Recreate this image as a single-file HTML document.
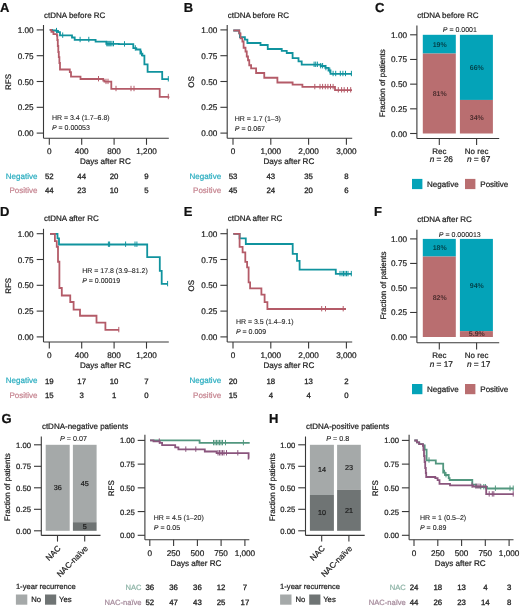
<!DOCTYPE html>
<html><head><meta charset="utf-8"><style>
html,body{margin:0;padding:0;background:#fff;}
svg{display:block;font-family:"Liberation Sans",sans-serif;text-rendering:geometricPrecision;filter:blur(0.3px);}
</style></head><body>
<svg width="520" height="608" viewBox="0 0 520 608">
<rect width="520" height="608" fill="#fff"/>
<text x="0.00" y="12.00" font-size="13" fill="#111" font-weight="bold" stroke="#111" stroke-width="0.22">A</text>
<text x="44.00" y="17.60" font-size="8" fill="#222" stroke="#222" stroke-width="0.22">ctDNA before RC</text>
<line x1="43.50" y1="25.00" x2="43.50" y2="138.20" stroke="#383838" stroke-width="1.1"/>
<line x1="36.70" y1="29.90" x2="43.50" y2="29.90" stroke="#383838" stroke-width="1.1"/>
<text x="33.60" y="32.90" font-size="8.2" fill="#222" text-anchor="end" stroke="#222" stroke-width="0.22">1.00</text>
<line x1="36.70" y1="55.70" x2="43.50" y2="55.70" stroke="#383838" stroke-width="1.1"/>
<text x="33.60" y="58.70" font-size="8.2" fill="#222" text-anchor="end" stroke="#222" stroke-width="0.22">0.75</text>
<line x1="36.70" y1="81.50" x2="43.50" y2="81.50" stroke="#383838" stroke-width="1.1"/>
<text x="33.60" y="84.50" font-size="8.2" fill="#222" text-anchor="end" stroke="#222" stroke-width="0.22">0.50</text>
<line x1="36.70" y1="107.30" x2="43.50" y2="107.30" stroke="#383838" stroke-width="1.1"/>
<text x="33.60" y="110.30" font-size="8.2" fill="#222" text-anchor="end" stroke="#222" stroke-width="0.22">0.25</text>
<line x1="36.70" y1="133.10" x2="43.50" y2="133.10" stroke="#383838" stroke-width="1.1"/>
<text x="33.60" y="136.10" font-size="8.2" fill="#222" text-anchor="end" stroke="#222" stroke-width="0.22">0.00</text>
<line x1="43.50" y1="138.20" x2="168.80" y2="138.20" stroke="#383838" stroke-width="1.1"/>
<line x1="49.30" y1="138.20" x2="49.30" y2="144.80" stroke="#383838" stroke-width="1.1"/>
<text x="49.30" y="153.80" font-size="8.2" fill="#222" text-anchor="middle" stroke="#222" stroke-width="0.22">0</text>
<line x1="81.70" y1="138.20" x2="81.70" y2="144.80" stroke="#383838" stroke-width="1.1"/>
<text x="81.70" y="153.80" font-size="8.2" fill="#222" text-anchor="middle" stroke="#222" stroke-width="0.22">400</text>
<line x1="114.10" y1="138.20" x2="114.10" y2="144.80" stroke="#383838" stroke-width="1.1"/>
<text x="114.10" y="153.80" font-size="8.2" fill="#222" text-anchor="middle" stroke="#222" stroke-width="0.22">800</text>
<line x1="146.50" y1="138.20" x2="146.50" y2="144.80" stroke="#383838" stroke-width="1.1"/>
<text x="146.50" y="153.80" font-size="8.2" fill="#222" text-anchor="middle" stroke="#222" stroke-width="0.22">1,200</text>
<text x="105.35" y="164.00" font-size="8.1" fill="#222" text-anchor="middle" stroke="#222" stroke-width="0.22">Days after RC</text>
<text transform="translate(10.60,82.00) rotate(-90)" font-size="8" fill="#222" text-anchor="middle" stroke="#222" stroke-width="0.22">RFS</text>
<text x="51.90" y="120.40" font-size="7" fill="#222" stroke="#222" stroke-width="0.1">HR = 3.4 (1.7–6.8)</text>
<text x="51.90" y="130.30" font-size="7" fill="#222" stroke="#222" stroke-width="0.1"><tspan font-style="italic">P</tspan> = 0.00053</text>
<text x="37.40" y="178.70" font-size="8" fill="#2caec0" text-anchor="end" stroke="#2caec0" stroke-width="0.22">Negative</text>
<text x="37.40" y="193.20" font-size="8" fill="#c68591" text-anchor="end" stroke="#c68591" stroke-width="0.22">Positive</text>
<text x="49.30" y="179.20" font-size="7.8" fill="#222" text-anchor="middle" stroke="#222" stroke-width="0.28">52</text>
<text x="49.30" y="193.40" font-size="7.8" fill="#222" text-anchor="middle" stroke="#222" stroke-width="0.28">44</text>
<text x="81.70" y="179.20" font-size="7.8" fill="#222" text-anchor="middle" stroke="#222" stroke-width="0.28">44</text>
<text x="81.70" y="193.40" font-size="7.8" fill="#222" text-anchor="middle" stroke="#222" stroke-width="0.28">23</text>
<text x="114.10" y="179.20" font-size="7.8" fill="#222" text-anchor="middle" stroke="#222" stroke-width="0.28">20</text>
<text x="114.10" y="193.40" font-size="7.8" fill="#222" text-anchor="middle" stroke="#222" stroke-width="0.28">10</text>
<text x="146.50" y="179.20" font-size="7.8" fill="#222" text-anchor="middle" stroke="#222" stroke-width="0.28">9</text>
<text x="146.50" y="193.40" font-size="7.8" fill="#222" text-anchor="middle" stroke="#222" stroke-width="0.28">5</text>
<path d="M49.70,29.90H52.20V30.50H56.30V30.90H58.00V32.20H60.00V35.45H72.00V37.50H74.70V39.80H95.60V41.70H106.30V43.90H118.80V44.20H133.30V48.20H136.30V49.50H140.40V53.60H142.40V55.60H144.40V64.30H147.60V71.80H162.20V79.10H168.60V79.10" fill="none" stroke="#10939e" stroke-width="1.8" stroke-linejoin="miter"/>
<line x1="56.50" y1="27.90" x2="56.50" y2="33.30" stroke="#10939e" stroke-width="1"/>
<line x1="62.70" y1="32.45" x2="62.70" y2="37.85" stroke="#10939e" stroke-width="1"/>
<line x1="80.10" y1="36.80" x2="80.10" y2="42.20" stroke="#10939e" stroke-width="1"/>
<line x1="88.80" y1="36.80" x2="88.80" y2="42.20" stroke="#10939e" stroke-width="1"/>
<line x1="106.80" y1="40.90" x2="106.80" y2="46.30" stroke="#10939e" stroke-width="1"/>
<line x1="107.80" y1="40.90" x2="107.80" y2="46.30" stroke="#10939e" stroke-width="1"/>
<line x1="108.80" y1="40.90" x2="108.80" y2="46.30" stroke="#10939e" stroke-width="1"/>
<line x1="109.80" y1="40.90" x2="109.80" y2="46.30" stroke="#10939e" stroke-width="1"/>
<line x1="110.80" y1="40.90" x2="110.80" y2="46.30" stroke="#10939e" stroke-width="1"/>
<line x1="112.00" y1="40.90" x2="112.00" y2="46.30" stroke="#10939e" stroke-width="1"/>
<line x1="113.50" y1="40.90" x2="113.50" y2="46.30" stroke="#10939e" stroke-width="1"/>
<line x1="124.50" y1="41.20" x2="124.50" y2="46.60" stroke="#10939e" stroke-width="1"/>
<line x1="135.30" y1="45.20" x2="135.30" y2="50.60" stroke="#10939e" stroke-width="1"/>
<line x1="141.50" y1="50.60" x2="141.50" y2="56.00" stroke="#10939e" stroke-width="1"/>
<line x1="168.30" y1="76.10" x2="168.30" y2="81.50" stroke="#10939e" stroke-width="1"/>
<path d="M49.70,29.90H51.40V31.75H53.45V34.20H56.90V35.50H57.30V40.00H57.80V46.00H58.30V52.00H58.80V57.20H59.40V63.00H60.00V69.50H68.10V69.50H69.80V72.10H71.00V76.70H80.50V79.00H103.30V80.50H104.40V81.70H111.30V88.80H159.70V96.80H168.60V96.60" fill="none" stroke="#b45b68" stroke-width="1.8" stroke-linejoin="miter"/>
<line x1="98.50" y1="76.00" x2="98.50" y2="81.40" stroke="#b45b68" stroke-width="1"/>
<line x1="106.00" y1="78.70" x2="106.00" y2="84.10" stroke="#b45b68" stroke-width="1"/>
<line x1="108.00" y1="78.70" x2="108.00" y2="84.10" stroke="#b45b68" stroke-width="1"/>
<line x1="116.00" y1="85.80" x2="116.00" y2="91.20" stroke="#b45b68" stroke-width="1"/>
<line x1="131.00" y1="85.80" x2="131.00" y2="91.20" stroke="#b45b68" stroke-width="1"/>
<line x1="134.00" y1="85.80" x2="134.00" y2="91.20" stroke="#b45b68" stroke-width="1"/>
<line x1="168.30" y1="93.80" x2="168.30" y2="99.20" stroke="#b45b68" stroke-width="1"/>
<text x="183.70" y="12.00" font-size="13" fill="#111" font-weight="bold" stroke="#111" stroke-width="0.22">B</text>
<text x="227.70" y="17.60" font-size="8" fill="#222" stroke="#222" stroke-width="0.22">ctDNA before RC</text>
<line x1="227.20" y1="25.00" x2="227.20" y2="138.20" stroke="#383838" stroke-width="1.1"/>
<line x1="220.40" y1="29.90" x2="227.20" y2="29.90" stroke="#383838" stroke-width="1.1"/>
<text x="217.30" y="32.90" font-size="8.2" fill="#222" text-anchor="end" stroke="#222" stroke-width="0.22">1.00</text>
<line x1="220.40" y1="55.70" x2="227.20" y2="55.70" stroke="#383838" stroke-width="1.1"/>
<text x="217.30" y="58.70" font-size="8.2" fill="#222" text-anchor="end" stroke="#222" stroke-width="0.22">0.75</text>
<line x1="220.40" y1="81.50" x2="227.20" y2="81.50" stroke="#383838" stroke-width="1.1"/>
<text x="217.30" y="84.50" font-size="8.2" fill="#222" text-anchor="end" stroke="#222" stroke-width="0.22">0.50</text>
<line x1="220.40" y1="107.30" x2="227.20" y2="107.30" stroke="#383838" stroke-width="1.1"/>
<text x="217.30" y="110.30" font-size="8.2" fill="#222" text-anchor="end" stroke="#222" stroke-width="0.22">0.25</text>
<line x1="220.40" y1="133.10" x2="227.20" y2="133.10" stroke="#383838" stroke-width="1.1"/>
<text x="217.30" y="136.10" font-size="8.2" fill="#222" text-anchor="end" stroke="#222" stroke-width="0.22">0.00</text>
<line x1="227.20" y1="138.20" x2="352.20" y2="138.20" stroke="#383838" stroke-width="1.1"/>
<line x1="233.00" y1="138.20" x2="233.00" y2="144.80" stroke="#383838" stroke-width="1.1"/>
<text x="233.00" y="153.80" font-size="8.2" fill="#222" text-anchor="middle" stroke="#222" stroke-width="0.22">0</text>
<line x1="270.80" y1="138.20" x2="270.80" y2="144.80" stroke="#383838" stroke-width="1.1"/>
<text x="270.80" y="153.80" font-size="8.2" fill="#222" text-anchor="middle" stroke="#222" stroke-width="0.22">1,000</text>
<line x1="308.60" y1="138.20" x2="308.60" y2="144.80" stroke="#383838" stroke-width="1.1"/>
<text x="308.60" y="153.80" font-size="8.2" fill="#222" text-anchor="middle" stroke="#222" stroke-width="0.22">2,000</text>
<line x1="346.40" y1="138.20" x2="346.40" y2="144.80" stroke="#383838" stroke-width="1.1"/>
<text x="346.40" y="153.80" font-size="8.2" fill="#222" text-anchor="middle" stroke="#222" stroke-width="0.22">3,000</text>
<text x="288.90" y="164.00" font-size="8.1" fill="#222" text-anchor="middle" stroke="#222" stroke-width="0.22">Days after RC</text>
<text transform="translate(194.30,82.00) rotate(-90)" font-size="8" fill="#222" text-anchor="middle" stroke="#222" stroke-width="0.22">OS</text>
<text x="234.80" y="120.80" font-size="7" fill="#222" stroke="#222" stroke-width="0.1">HR = 1.7 (1–3)</text>
<text x="234.80" y="130.70" font-size="7" fill="#222" stroke="#222" stroke-width="0.1"><tspan font-style="italic">P</tspan> = 0.067</text>
<text x="221.10" y="178.70" font-size="8" fill="#2caec0" text-anchor="end" stroke="#2caec0" stroke-width="0.22">Negative</text>
<text x="221.10" y="193.20" font-size="8" fill="#c68591" text-anchor="end" stroke="#c68591" stroke-width="0.22">Positive</text>
<text x="233.00" y="179.20" font-size="7.8" fill="#222" text-anchor="middle" stroke="#222" stroke-width="0.28">53</text>
<text x="233.00" y="193.40" font-size="7.8" fill="#222" text-anchor="middle" stroke="#222" stroke-width="0.28">45</text>
<text x="270.80" y="179.20" font-size="7.8" fill="#222" text-anchor="middle" stroke="#222" stroke-width="0.28">43</text>
<text x="270.80" y="193.40" font-size="7.8" fill="#222" text-anchor="middle" stroke="#222" stroke-width="0.28">24</text>
<text x="308.60" y="179.20" font-size="7.8" fill="#222" text-anchor="middle" stroke="#222" stroke-width="0.28">35</text>
<text x="308.60" y="193.40" font-size="7.8" fill="#222" text-anchor="middle" stroke="#222" stroke-width="0.28">20</text>
<text x="346.40" y="179.20" font-size="7.8" fill="#222" text-anchor="middle" stroke="#222" stroke-width="0.28">8</text>
<text x="346.40" y="193.40" font-size="7.8" fill="#222" text-anchor="middle" stroke="#222" stroke-width="0.28">6</text>
<path d="M233.30,30.50H239.25V33.40H239.90V37.10H244.90V39.60H247.40V43.00H260.50V45.00H267.75V49.00H281.75V50.90H286.75V53.00H292.60V58.10H298.50V61.40H301.70V64.60H320.70V66.00H325.30V67.90H328.50V70.50H330.50V73.80H352.00V73.80" fill="none" stroke="#10939e" stroke-width="1.8" stroke-linejoin="miter"/>
<line x1="314.10" y1="61.60" x2="314.10" y2="67.00" stroke="#10939e" stroke-width="1"/>
<line x1="315.70" y1="61.60" x2="315.70" y2="67.00" stroke="#10939e" stroke-width="1"/>
<line x1="317.40" y1="61.60" x2="317.40" y2="67.00" stroke="#10939e" stroke-width="1"/>
<line x1="320.70" y1="63.00" x2="320.70" y2="68.40" stroke="#10939e" stroke-width="1"/>
<line x1="322.60" y1="63.00" x2="322.60" y2="68.40" stroke="#10939e" stroke-width="1"/>
<line x1="325.90" y1="64.90" x2="325.90" y2="70.30" stroke="#10939e" stroke-width="1"/>
<line x1="329.80" y1="67.50" x2="329.80" y2="72.90" stroke="#10939e" stroke-width="1"/>
<line x1="333.10" y1="70.80" x2="333.10" y2="76.20" stroke="#10939e" stroke-width="1"/>
<line x1="335.70" y1="70.80" x2="335.70" y2="76.20" stroke="#10939e" stroke-width="1"/>
<line x1="340.30" y1="70.80" x2="340.30" y2="76.20" stroke="#10939e" stroke-width="1"/>
<line x1="342.90" y1="70.80" x2="342.90" y2="76.20" stroke="#10939e" stroke-width="1"/>
<line x1="345.50" y1="70.80" x2="345.50" y2="76.20" stroke="#10939e" stroke-width="1"/>
<line x1="351.40" y1="70.80" x2="351.40" y2="76.20" stroke="#10939e" stroke-width="1"/>
<path d="M233.30,30.50H239.25V33.40H240.50V38.40H242.40V41.50H243.60V47.75H245.50V51.50H246.75V56.50H248.00V60.25H249.25V65.25H251.10V68.40H256.10V73.00H264.25V77.75H277.40V82.50H292.60V84.60H302.40V86.90H335.00V90.10H352.00V90.10" fill="none" stroke="#b45b68" stroke-width="1.8" stroke-linejoin="miter"/>
<line x1="314.80" y1="83.90" x2="314.80" y2="89.30" stroke="#b45b68" stroke-width="1"/>
<line x1="320.00" y1="83.90" x2="320.00" y2="89.30" stroke="#b45b68" stroke-width="1"/>
<line x1="322.60" y1="83.90" x2="322.60" y2="89.30" stroke="#b45b68" stroke-width="1"/>
<line x1="325.30" y1="83.90" x2="325.30" y2="89.30" stroke="#b45b68" stroke-width="1"/>
<line x1="327.90" y1="83.90" x2="327.90" y2="89.30" stroke="#b45b68" stroke-width="1"/>
<line x1="330.50" y1="83.90" x2="330.50" y2="89.30" stroke="#b45b68" stroke-width="1"/>
<line x1="333.10" y1="83.90" x2="333.10" y2="89.30" stroke="#b45b68" stroke-width="1"/>
<line x1="338.30" y1="87.10" x2="338.30" y2="92.50" stroke="#b45b68" stroke-width="1"/>
<line x1="341.60" y1="87.10" x2="341.60" y2="92.50" stroke="#b45b68" stroke-width="1"/>
<line x1="344.20" y1="87.10" x2="344.20" y2="92.50" stroke="#b45b68" stroke-width="1"/>
<line x1="347.50" y1="87.10" x2="347.50" y2="92.50" stroke="#b45b68" stroke-width="1"/>
<line x1="350.70" y1="87.10" x2="350.70" y2="92.50" stroke="#b45b68" stroke-width="1"/>
<text x="375.00" y="12.00" font-size="13" fill="#111" font-weight="bold" stroke="#111" stroke-width="0.22">C</text>
<text x="417.20" y="17.60" font-size="8" fill="#222" stroke="#222" stroke-width="0.22">ctDNA before RC</text>
<line x1="416.90" y1="25.40" x2="416.90" y2="138.50" stroke="#383838" stroke-width="1.1"/>
<line x1="410.10" y1="34.80" x2="416.90" y2="34.80" stroke="#383838" stroke-width="1.1"/>
<text x="407.00" y="37.80" font-size="8.2" fill="#222" text-anchor="end" stroke="#222" stroke-width="0.22">1.00</text>
<line x1="410.10" y1="59.47" x2="416.90" y2="59.47" stroke="#383838" stroke-width="1.1"/>
<text x="407.00" y="62.47" font-size="8.2" fill="#222" text-anchor="end" stroke="#222" stroke-width="0.22">0.75</text>
<line x1="410.10" y1="84.15" x2="416.90" y2="84.15" stroke="#383838" stroke-width="1.1"/>
<text x="407.00" y="87.15" font-size="8.2" fill="#222" text-anchor="end" stroke="#222" stroke-width="0.22">0.50</text>
<line x1="410.10" y1="108.83" x2="416.90" y2="108.83" stroke="#383838" stroke-width="1.1"/>
<text x="407.00" y="111.83" font-size="8.2" fill="#222" text-anchor="end" stroke="#222" stroke-width="0.22">0.25</text>
<line x1="410.10" y1="133.50" x2="416.90" y2="133.50" stroke="#383838" stroke-width="1.1"/>
<text x="407.00" y="136.50" font-size="8.2" fill="#222" text-anchor="end" stroke="#222" stroke-width="0.22">0.00</text>
<line x1="416.90" y1="138.50" x2="499.20" y2="138.50" stroke="#383838" stroke-width="1.1"/>
<line x1="439.30" y1="138.50" x2="439.30" y2="145.10" stroke="#383838" stroke-width="1.1"/>
<line x1="476.60" y1="138.50" x2="476.60" y2="145.10" stroke="#383838" stroke-width="1.1"/>
<text x="459.80" y="32.40" font-size="7" fill="#222" text-anchor="middle" stroke="#222" stroke-width="0.1"><tspan font-style="italic">P</tspan> = 0.0001</text>
<text transform="translate(385.10,83.20) rotate(-90)" font-size="8" fill="#222" text-anchor="middle" stroke="#222" stroke-width="0.22">Fraction of patients</text>
<rect x="422.80" y="34.80" width="33.00" height="18.75" fill="#04a3b8"/>
<rect x="422.80" y="53.55" width="33.00" height="79.95" fill="#b96e70"/>
<text x="439.70" y="46.88" font-size="7" fill="#000" text-anchor="middle" font-weight="bold" fill-opacity="0.6" stroke-opacity="0" stroke="#000" stroke-width="0.1">19%</text>
<text x="439.70" y="96.43" font-size="7" fill="#000" text-anchor="middle" font-weight="bold" fill-opacity="0.6" stroke-opacity="0" stroke="#000" stroke-width="0.1">81%</text>
<rect x="459.90" y="34.80" width="33.00" height="65.14" fill="#04a3b8"/>
<rect x="459.90" y="99.94" width="33.00" height="33.56" fill="#b96e70"/>
<text x="476.80" y="70.07" font-size="7" fill="#000" text-anchor="middle" font-weight="bold" fill-opacity="0.6" stroke-opacity="0" stroke="#000" stroke-width="0.1">66%</text>
<text x="476.80" y="119.62" font-size="7" fill="#000" text-anchor="middle" font-weight="bold" fill-opacity="0.6" stroke-opacity="0" stroke="#000" stroke-width="0.1">34%</text>
<text x="439.30" y="153.90" font-size="8" fill="#222" text-anchor="middle" stroke="#222" stroke-width="0.22">Rec</text>
<text x="441.30" y="162.40" font-size="8.3" fill="#222" text-anchor="middle" stroke="#222" stroke-width="0.22"><tspan font-style="italic">n</tspan> = 26</text>
<text x="476.60" y="153.90" font-size="8" fill="#222" text-anchor="middle" stroke="#222" stroke-width="0.22">No rec</text>
<text x="478.60" y="162.40" font-size="8.3" fill="#222" text-anchor="middle" stroke="#222" stroke-width="0.22"><tspan font-style="italic">n</tspan> = 67</text>
<rect x="412.00" y="178.90" width="10.40" height="10.20" fill="#04a3b8"/>
<text x="427.00" y="186.90" font-size="8" fill="#222" stroke="#222" stroke-width="0.22">Negative</text>
<rect x="465.00" y="178.90" width="10.40" height="10.20" fill="#b96e70"/>
<text x="480.30" y="186.90" font-size="8" fill="#222" stroke="#222" stroke-width="0.22">Positive</text>
<text x="0.00" y="215.80" font-size="13" fill="#111" font-weight="bold" stroke="#111" stroke-width="0.22">D</text>
<text x="44.00" y="221.40" font-size="8" fill="#222" stroke="#222" stroke-width="0.22">ctDNA after RC</text>
<line x1="43.50" y1="228.80" x2="43.50" y2="342.00" stroke="#383838" stroke-width="1.1"/>
<line x1="36.70" y1="233.70" x2="43.50" y2="233.70" stroke="#383838" stroke-width="1.1"/>
<text x="33.60" y="236.70" font-size="8.2" fill="#222" text-anchor="end" stroke="#222" stroke-width="0.22">1.00</text>
<line x1="36.70" y1="259.50" x2="43.50" y2="259.50" stroke="#383838" stroke-width="1.1"/>
<text x="33.60" y="262.50" font-size="8.2" fill="#222" text-anchor="end" stroke="#222" stroke-width="0.22">0.75</text>
<line x1="36.70" y1="285.30" x2="43.50" y2="285.30" stroke="#383838" stroke-width="1.1"/>
<text x="33.60" y="288.30" font-size="8.2" fill="#222" text-anchor="end" stroke="#222" stroke-width="0.22">0.50</text>
<line x1="36.70" y1="311.10" x2="43.50" y2="311.10" stroke="#383838" stroke-width="1.1"/>
<text x="33.60" y="314.10" font-size="8.2" fill="#222" text-anchor="end" stroke="#222" stroke-width="0.22">0.25</text>
<line x1="36.70" y1="336.90" x2="43.50" y2="336.90" stroke="#383838" stroke-width="1.1"/>
<text x="33.60" y="339.90" font-size="8.2" fill="#222" text-anchor="end" stroke="#222" stroke-width="0.22">0.00</text>
<line x1="43.50" y1="342.00" x2="168.80" y2="342.00" stroke="#383838" stroke-width="1.1"/>
<line x1="49.30" y1="342.00" x2="49.30" y2="348.60" stroke="#383838" stroke-width="1.1"/>
<text x="49.30" y="357.60" font-size="8.2" fill="#222" text-anchor="middle" stroke="#222" stroke-width="0.22">0</text>
<line x1="81.70" y1="342.00" x2="81.70" y2="348.60" stroke="#383838" stroke-width="1.1"/>
<text x="81.70" y="357.60" font-size="8.2" fill="#222" text-anchor="middle" stroke="#222" stroke-width="0.22">400</text>
<line x1="114.10" y1="342.00" x2="114.10" y2="348.60" stroke="#383838" stroke-width="1.1"/>
<text x="114.10" y="357.60" font-size="8.2" fill="#222" text-anchor="middle" stroke="#222" stroke-width="0.22">800</text>
<line x1="146.50" y1="342.00" x2="146.50" y2="348.60" stroke="#383838" stroke-width="1.1"/>
<text x="146.50" y="357.60" font-size="8.2" fill="#222" text-anchor="middle" stroke="#222" stroke-width="0.22">1,200</text>
<text x="105.35" y="367.80" font-size="8.1" fill="#222" text-anchor="middle" stroke="#222" stroke-width="0.22">Days after RC</text>
<text transform="translate(10.60,285.80) rotate(-90)" font-size="8" fill="#222" text-anchor="middle" stroke="#222" stroke-width="0.22">RFS</text>
<text x="82.20" y="273.30" font-size="7" fill="#222" stroke="#222" stroke-width="0.1">HR = 17.8 (3.9–81.2)</text>
<text x="82.20" y="283.20" font-size="7" fill="#222" stroke="#222" stroke-width="0.1"><tspan font-style="italic">P</tspan> = 0.00019</text>
<text x="37.40" y="383.20" font-size="8" fill="#2caec0" text-anchor="end" stroke="#2caec0" stroke-width="0.22">Negative</text>
<text x="37.40" y="397.70" font-size="8" fill="#c68591" text-anchor="end" stroke="#c68591" stroke-width="0.22">Positive</text>
<text x="49.30" y="383.70" font-size="7.8" fill="#222" text-anchor="middle" stroke="#222" stroke-width="0.28">19</text>
<text x="49.30" y="397.90" font-size="7.8" fill="#222" text-anchor="middle" stroke="#222" stroke-width="0.28">15</text>
<text x="81.70" y="383.70" font-size="7.8" fill="#222" text-anchor="middle" stroke="#222" stroke-width="0.28">17</text>
<text x="81.70" y="397.90" font-size="7.8" fill="#222" text-anchor="middle" stroke="#222" stroke-width="0.28">3</text>
<text x="114.10" y="383.70" font-size="7.8" fill="#222" text-anchor="middle" stroke="#222" stroke-width="0.28">10</text>
<text x="114.10" y="397.90" font-size="7.8" fill="#222" text-anchor="middle" stroke="#222" stroke-width="0.28">1</text>
<text x="146.50" y="383.70" font-size="7.8" fill="#222" text-anchor="middle" stroke="#222" stroke-width="0.28">7</text>
<text x="146.50" y="397.90" font-size="7.8" fill="#222" text-anchor="middle" stroke="#222" stroke-width="0.28">0</text>
<path d="M50.00,233.80H57.50V238.30H59.00V244.50H147.20V257.10H159.80V270.80H161.70V283.90H167.90V283.90" fill="none" stroke="#10939e" stroke-width="1.8" stroke-linejoin="miter"/>
<line x1="108.40" y1="241.50" x2="108.40" y2="246.90" stroke="#10939e" stroke-width="1"/>
<line x1="109.60" y1="241.50" x2="109.60" y2="246.90" stroke="#10939e" stroke-width="1"/>
<line x1="125.60" y1="241.50" x2="125.60" y2="246.90" stroke="#10939e" stroke-width="1"/>
<line x1="135.00" y1="241.50" x2="135.00" y2="246.90" stroke="#10939e" stroke-width="1"/>
<line x1="136.90" y1="241.50" x2="136.90" y2="246.90" stroke="#10939e" stroke-width="1"/>
<line x1="167.60" y1="280.90" x2="167.60" y2="286.30" stroke="#10939e" stroke-width="1"/>
<path d="M50.00,233.80H54.90V241.10H56.75V246.75H58.00V261.75H59.40V288.00H61.80V295.50H70.25V302.00H73.60V309.60H80.00V315.75H96.50V322.70H105.40V329.90H119.10V329.90" fill="none" stroke="#b45b68" stroke-width="1.8" stroke-linejoin="miter"/>
<line x1="118.80" y1="326.90" x2="118.80" y2="332.30" stroke="#b45b68" stroke-width="1"/>
<text x="183.70" y="215.80" font-size="13" fill="#111" font-weight="bold" stroke="#111" stroke-width="0.22">E</text>
<text x="227.70" y="221.40" font-size="8" fill="#222" stroke="#222" stroke-width="0.22">ctDNA after RC</text>
<line x1="227.20" y1="228.80" x2="227.20" y2="342.00" stroke="#383838" stroke-width="1.1"/>
<line x1="220.40" y1="233.70" x2="227.20" y2="233.70" stroke="#383838" stroke-width="1.1"/>
<text x="217.30" y="236.70" font-size="8.2" fill="#222" text-anchor="end" stroke="#222" stroke-width="0.22">1.00</text>
<line x1="220.40" y1="259.50" x2="227.20" y2="259.50" stroke="#383838" stroke-width="1.1"/>
<text x="217.30" y="262.50" font-size="8.2" fill="#222" text-anchor="end" stroke="#222" stroke-width="0.22">0.75</text>
<line x1="220.40" y1="285.30" x2="227.20" y2="285.30" stroke="#383838" stroke-width="1.1"/>
<text x="217.30" y="288.30" font-size="8.2" fill="#222" text-anchor="end" stroke="#222" stroke-width="0.22">0.50</text>
<line x1="220.40" y1="311.10" x2="227.20" y2="311.10" stroke="#383838" stroke-width="1.1"/>
<text x="217.30" y="314.10" font-size="8.2" fill="#222" text-anchor="end" stroke="#222" stroke-width="0.22">0.25</text>
<line x1="220.40" y1="336.90" x2="227.20" y2="336.90" stroke="#383838" stroke-width="1.1"/>
<text x="217.30" y="339.90" font-size="8.2" fill="#222" text-anchor="end" stroke="#222" stroke-width="0.22">0.00</text>
<line x1="227.20" y1="342.00" x2="352.20" y2="342.00" stroke="#383838" stroke-width="1.1"/>
<line x1="233.00" y1="342.00" x2="233.00" y2="348.60" stroke="#383838" stroke-width="1.1"/>
<text x="233.00" y="357.60" font-size="8.2" fill="#222" text-anchor="middle" stroke="#222" stroke-width="0.22">0</text>
<line x1="270.80" y1="342.00" x2="270.80" y2="348.60" stroke="#383838" stroke-width="1.1"/>
<text x="270.80" y="357.60" font-size="8.2" fill="#222" text-anchor="middle" stroke="#222" stroke-width="0.22">1,000</text>
<line x1="308.60" y1="342.00" x2="308.60" y2="348.60" stroke="#383838" stroke-width="1.1"/>
<text x="308.60" y="357.60" font-size="8.2" fill="#222" text-anchor="middle" stroke="#222" stroke-width="0.22">2,000</text>
<line x1="346.40" y1="342.00" x2="346.40" y2="348.60" stroke="#383838" stroke-width="1.1"/>
<text x="346.40" y="357.60" font-size="8.2" fill="#222" text-anchor="middle" stroke="#222" stroke-width="0.22">3,000</text>
<text x="288.90" y="367.80" font-size="8.1" fill="#222" text-anchor="middle" stroke="#222" stroke-width="0.22">Days after RC</text>
<text transform="translate(194.30,285.80) rotate(-90)" font-size="8" fill="#222" text-anchor="middle" stroke="#222" stroke-width="0.22">OS</text>
<text x="235.90" y="324.30" font-size="7" fill="#222" stroke="#222" stroke-width="0.1">HR = 3.5 (1.4–9.1)</text>
<text x="235.90" y="334.20" font-size="7" fill="#222" stroke="#222" stroke-width="0.1"><tspan font-style="italic">P</tspan> = 0.009</text>
<text x="221.10" y="383.20" font-size="8" fill="#2caec0" text-anchor="end" stroke="#2caec0" stroke-width="0.22">Negative</text>
<text x="221.10" y="397.70" font-size="8" fill="#c68591" text-anchor="end" stroke="#c68591" stroke-width="0.22">Positive</text>
<text x="233.00" y="383.70" font-size="7.8" fill="#222" text-anchor="middle" stroke="#222" stroke-width="0.28">20</text>
<text x="233.00" y="397.90" font-size="7.8" fill="#222" text-anchor="middle" stroke="#222" stroke-width="0.28">15</text>
<text x="270.80" y="383.70" font-size="7.8" fill="#222" text-anchor="middle" stroke="#222" stroke-width="0.28">18</text>
<text x="270.80" y="397.90" font-size="7.8" fill="#222" text-anchor="middle" stroke="#222" stroke-width="0.28">4</text>
<text x="308.60" y="383.70" font-size="7.8" fill="#222" text-anchor="middle" stroke="#222" stroke-width="0.28">13</text>
<text x="308.60" y="397.90" font-size="7.8" fill="#222" text-anchor="middle" stroke="#222" stroke-width="0.28">4</text>
<text x="346.40" y="383.70" font-size="7.8" fill="#222" text-anchor="middle" stroke="#222" stroke-width="0.28">2</text>
<text x="346.40" y="397.90" font-size="7.8" fill="#222" text-anchor="middle" stroke="#222" stroke-width="0.28">0</text>
<path d="M233.30,233.80H239.60V238.30H245.80V244.00H292.70V244.00H292.70V253.80H297.00V260.80H299.60V269.60H335.80V273.90H351.70V273.90" fill="none" stroke="#10939e" stroke-width="1.8" stroke-linejoin="miter"/>
<line x1="340.00" y1="270.90" x2="340.00" y2="276.30" stroke="#10939e" stroke-width="1"/>
<line x1="342.00" y1="270.90" x2="342.00" y2="276.30" stroke="#10939e" stroke-width="1"/>
<line x1="343.50" y1="270.90" x2="343.50" y2="276.30" stroke="#10939e" stroke-width="1"/>
<line x1="345.00" y1="270.90" x2="345.00" y2="276.30" stroke="#10939e" stroke-width="1"/>
<line x1="346.50" y1="270.90" x2="346.50" y2="276.30" stroke="#10939e" stroke-width="1"/>
<line x1="348.00" y1="270.90" x2="348.00" y2="276.30" stroke="#10939e" stroke-width="1"/>
<line x1="351.30" y1="270.90" x2="351.30" y2="276.30" stroke="#10939e" stroke-width="1"/>
<path d="M233.30,233.80H239.60V246.80H242.60V252.40H245.30V261.80H247.10V267.40H248.60V282.40H250.10V288.40H261.40V294.60H264.60V302.10H267.40V309.00H346.00V309.00" fill="none" stroke="#b45b68" stroke-width="1.8" stroke-linejoin="miter"/>
<line x1="321.70" y1="306.00" x2="321.70" y2="311.40" stroke="#b45b68" stroke-width="1"/>
<line x1="325.50" y1="306.00" x2="325.50" y2="311.40" stroke="#b45b68" stroke-width="1"/>
<line x1="343.20" y1="306.00" x2="343.20" y2="311.40" stroke="#b45b68" stroke-width="1"/>
<text x="374.00" y="216.30" font-size="13" fill="#111" font-weight="bold" stroke="#111" stroke-width="0.22">F</text>
<text x="417.20" y="221.90" font-size="8" fill="#222" stroke="#222" stroke-width="0.22">ctDNA after RC</text>
<line x1="416.90" y1="229.70" x2="416.90" y2="342.80" stroke="#383838" stroke-width="1.1"/>
<line x1="410.10" y1="238.90" x2="416.90" y2="238.90" stroke="#383838" stroke-width="1.1"/>
<text x="407.00" y="241.90" font-size="8.2" fill="#222" text-anchor="end" stroke="#222" stroke-width="0.22">1.00</text>
<line x1="410.10" y1="263.43" x2="416.90" y2="263.43" stroke="#383838" stroke-width="1.1"/>
<text x="407.00" y="266.43" font-size="8.2" fill="#222" text-anchor="end" stroke="#222" stroke-width="0.22">0.75</text>
<line x1="410.10" y1="287.95" x2="416.90" y2="287.95" stroke="#383838" stroke-width="1.1"/>
<text x="407.00" y="290.95" font-size="8.2" fill="#222" text-anchor="end" stroke="#222" stroke-width="0.22">0.50</text>
<line x1="410.10" y1="312.48" x2="416.90" y2="312.48" stroke="#383838" stroke-width="1.1"/>
<text x="407.00" y="315.48" font-size="8.2" fill="#222" text-anchor="end" stroke="#222" stroke-width="0.22">0.25</text>
<line x1="410.10" y1="337.00" x2="416.90" y2="337.00" stroke="#383838" stroke-width="1.1"/>
<text x="407.00" y="340.00" font-size="8.2" fill="#222" text-anchor="end" stroke="#222" stroke-width="0.22">0.00</text>
<line x1="416.90" y1="342.80" x2="499.20" y2="342.80" stroke="#383838" stroke-width="1.1"/>
<line x1="439.30" y1="342.80" x2="439.30" y2="349.40" stroke="#383838" stroke-width="1.1"/>
<line x1="476.60" y1="342.80" x2="476.60" y2="349.40" stroke="#383838" stroke-width="1.1"/>
<text x="459.80" y="236.70" font-size="7" fill="#222" text-anchor="middle" stroke="#222" stroke-width="0.1"><tspan font-style="italic">P</tspan> = 0.000013</text>
<text transform="translate(386.00,285.60) rotate(-90)" font-size="8" fill="#222" text-anchor="middle" stroke="#222" stroke-width="0.22">Fraction of patients</text>
<rect x="422.80" y="238.90" width="33.00" height="17.66" fill="#04a3b8"/>
<rect x="422.80" y="256.56" width="33.00" height="80.44" fill="#b96e70"/>
<text x="439.70" y="250.43" font-size="7" fill="#000" text-anchor="middle" font-weight="bold" fill-opacity="0.6" stroke-opacity="0" stroke="#000" stroke-width="0.1">18%</text>
<text x="439.70" y="299.68" font-size="7" fill="#000" text-anchor="middle" font-weight="bold" fill-opacity="0.6" stroke-opacity="0" stroke="#000" stroke-width="0.1">82%</text>
<rect x="459.90" y="238.90" width="33.00" height="92.21" fill="#04a3b8"/>
<rect x="459.90" y="331.11" width="33.00" height="5.89" fill="#b96e70"/>
<text x="476.80" y="287.71" font-size="7" fill="#000" text-anchor="middle" font-weight="bold" fill-opacity="0.6" stroke-opacity="0" stroke="#000" stroke-width="0.1">94%</text>
<text x="476.80" y="336.40" font-size="7" fill="#000" text-anchor="middle" font-weight="bold" fill-opacity="0.6" stroke-opacity="0" stroke="#000" stroke-width="0.1">5.9%</text>
<text x="439.30" y="358.20" font-size="8" fill="#222" text-anchor="middle" stroke="#222" stroke-width="0.22">Rec</text>
<text x="441.30" y="366.70" font-size="8.3" fill="#222" text-anchor="middle" stroke="#222" stroke-width="0.22"><tspan font-style="italic">n</tspan> = 17</text>
<text x="476.60" y="358.20" font-size="8" fill="#222" text-anchor="middle" stroke="#222" stroke-width="0.22">No rec</text>
<text x="478.60" y="366.70" font-size="8.3" fill="#222" text-anchor="middle" stroke="#222" stroke-width="0.22"><tspan font-style="italic">n</tspan> = 17</text>
<rect x="412.00" y="384.00" width="10.40" height="10.20" fill="#04a3b8"/>
<text x="427.00" y="392.00" font-size="8" fill="#222" stroke="#222" stroke-width="0.22">Negative</text>
<rect x="465.00" y="384.00" width="10.40" height="10.20" fill="#b96e70"/>
<text x="480.30" y="392.00" font-size="8" fill="#222" stroke="#222" stroke-width="0.22">Positive</text>
<text x="1.50" y="423.10" font-size="13" fill="#111" font-weight="bold" stroke="#111" stroke-width="0.22">G</text>
<text x="41.90" y="428.80" font-size="8" fill="#222" stroke="#222" stroke-width="0.22">ctDNA-negative patients</text>
<line x1="41.30" y1="436.50" x2="41.30" y2="535.40" stroke="#383838" stroke-width="1.1"/>
<line x1="34.00" y1="444.80" x2="41.30" y2="444.80" stroke="#383838" stroke-width="1.1"/>
<text x="31.00" y="447.80" font-size="7.7" fill="#222" text-anchor="end" stroke="#222" stroke-width="0.22">1.00</text>
<line x1="34.00" y1="466.30" x2="41.30" y2="466.30" stroke="#383838" stroke-width="1.1"/>
<text x="31.00" y="469.30" font-size="7.7" fill="#222" text-anchor="end" stroke="#222" stroke-width="0.22">0.75</text>
<line x1="34.00" y1="487.80" x2="41.30" y2="487.80" stroke="#383838" stroke-width="1.1"/>
<text x="31.00" y="490.80" font-size="7.7" fill="#222" text-anchor="end" stroke="#222" stroke-width="0.22">0.50</text>
<line x1="34.00" y1="509.30" x2="41.30" y2="509.30" stroke="#383838" stroke-width="1.1"/>
<text x="31.00" y="512.30" font-size="7.7" fill="#222" text-anchor="end" stroke="#222" stroke-width="0.22">0.25</text>
<line x1="34.00" y1="530.80" x2="41.30" y2="530.80" stroke="#383838" stroke-width="1.1"/>
<text x="31.00" y="533.80" font-size="7.7" fill="#222" text-anchor="end" stroke="#222" stroke-width="0.22">0.00</text>
<line x1="41.30" y1="535.40" x2="100.50" y2="535.40" stroke="#383838" stroke-width="1.1"/>
<line x1="57.50" y1="535.40" x2="57.50" y2="541.60" stroke="#383838" stroke-width="1.1"/>
<line x1="84.70" y1="535.40" x2="84.70" y2="541.60" stroke="#383838" stroke-width="1.1"/>
<text x="73.50" y="441.30" font-size="7.2" fill="#222" text-anchor="middle" stroke="#222" stroke-width="0.1"><tspan font-style="italic">P</tspan> = 0.07</text>
<text transform="translate(10.30,487.30) rotate(-90)" font-size="8" fill="#222" text-anchor="middle" stroke="#222" stroke-width="0.22">Fraction of patients</text>
<rect x="45.70" y="444.80" width="24.00" height="86.00" fill="#a5a9a9"/>
<rect x="45.70" y="530.80" width="24.00" height="0.00" fill="#6f7474"/>
<text x="57.70" y="490.40" font-size="7.2" fill="#1c1c1c" text-anchor="middle" stroke="#1c1c1c" stroke-width="0.2">36</text>
<rect x="72.90" y="444.80" width="23.70" height="77.40" fill="#a5a9a9"/>
<rect x="72.90" y="522.20" width="23.70" height="8.60" fill="#6f7474"/>
<text x="84.75" y="486.10" font-size="7.2" fill="#1c1c1c" text-anchor="middle" stroke="#1c1c1c" stroke-width="0.2">45</text>
<text x="84.75" y="529.10" font-size="7.2" fill="#1c1c1c" text-anchor="middle" stroke="#1c1c1c" stroke-width="0.2">5</text>
<text transform="translate(61.30,548.90) rotate(-45)" font-size="8.2" fill="#222" text-anchor="end" stroke="#222" stroke-width="0.22">NAC</text>
<text transform="translate(88.50,549.10) rotate(-45)" font-size="8.2" fill="#222" text-anchor="end" stroke="#222" stroke-width="0.22">NAC-naïve</text>
<text x="15.90" y="588.90" font-size="7.6" fill="#222" stroke="#222" stroke-width="0.22">1-year recurrence</text>
<rect x="15.90" y="594.50" width="11.40" height="10.20" fill="#a5a9a9"/>
<text x="31.30" y="602.40" font-size="7.7" fill="#222" stroke="#222" stroke-width="0.22">No</text>
<rect x="45.00" y="594.50" width="11.20" height="10.20" fill="#6f7474"/>
<text x="59.00" y="602.40" font-size="7.7" fill="#222" stroke="#222" stroke-width="0.22">Yes</text>
<line x1="144.90" y1="434.80" x2="144.90" y2="539.70" stroke="#383838" stroke-width="1.1"/>
<line x1="137.70" y1="440.40" x2="144.90" y2="440.40" stroke="#383838" stroke-width="1.1"/>
<text x="134.90" y="443.40" font-size="7.7" fill="#222" text-anchor="end" stroke="#222" stroke-width="0.22">1.00</text>
<line x1="137.70" y1="464.12" x2="144.90" y2="464.12" stroke="#383838" stroke-width="1.1"/>
<text x="134.90" y="467.12" font-size="7.7" fill="#222" text-anchor="end" stroke="#222" stroke-width="0.22">0.75</text>
<line x1="137.70" y1="487.85" x2="144.90" y2="487.85" stroke="#383838" stroke-width="1.1"/>
<text x="134.90" y="490.85" font-size="7.7" fill="#222" text-anchor="end" stroke="#222" stroke-width="0.22">0.50</text>
<line x1="137.70" y1="511.57" x2="144.90" y2="511.57" stroke="#383838" stroke-width="1.1"/>
<text x="134.90" y="514.57" font-size="7.7" fill="#222" text-anchor="end" stroke="#222" stroke-width="0.22">0.25</text>
<line x1="137.70" y1="535.30" x2="144.90" y2="535.30" stroke="#383838" stroke-width="1.1"/>
<text x="134.90" y="538.30" font-size="7.7" fill="#222" text-anchor="end" stroke="#222" stroke-width="0.22">0.00</text>
<line x1="144.90" y1="539.70" x2="249.30" y2="539.70" stroke="#383838" stroke-width="1.1"/>
<line x1="149.80" y1="539.70" x2="149.80" y2="546.00" stroke="#383838" stroke-width="1.1"/>
<text x="149.80" y="555.80" font-size="8.2" fill="#222" text-anchor="middle" stroke="#222" stroke-width="0.22">0</text>
<line x1="173.60" y1="539.70" x2="173.60" y2="546.00" stroke="#383838" stroke-width="1.1"/>
<text x="173.60" y="555.80" font-size="8.2" fill="#222" text-anchor="middle" stroke="#222" stroke-width="0.22">250</text>
<line x1="197.40" y1="539.70" x2="197.40" y2="546.00" stroke="#383838" stroke-width="1.1"/>
<text x="197.40" y="555.80" font-size="8.2" fill="#222" text-anchor="middle" stroke="#222" stroke-width="0.22">500</text>
<line x1="221.10" y1="539.70" x2="221.10" y2="546.00" stroke="#383838" stroke-width="1.1"/>
<text x="221.10" y="555.80" font-size="8.2" fill="#222" text-anchor="middle" stroke="#222" stroke-width="0.22">750</text>
<line x1="244.90" y1="539.70" x2="244.90" y2="546.00" stroke="#383838" stroke-width="1.1"/>
<text x="244.90" y="555.80" font-size="8.2" fill="#222" text-anchor="middle" stroke="#222" stroke-width="0.22">1,000</text>
<text x="196.00" y="566.30" font-size="8.1" fill="#222" text-anchor="middle" stroke="#222" stroke-width="0.22">Days after RC</text>
<text transform="translate(114.10,488.20) rotate(-90)" font-size="8" fill="#222" text-anchor="middle" stroke="#222" stroke-width="0.22">RFS</text>
<text x="153.80" y="520.00" font-size="7" fill="#222" stroke="#222" stroke-width="0.1">HR = 4.5 (1–20)</text>
<text x="153.80" y="529.60" font-size="7" fill="#222" stroke="#222" stroke-width="0.1"><tspan font-style="italic">P</tspan> = 0.05</text>
<text x="141.60" y="589.90" font-size="7.6" fill="#8db3a6" text-anchor="end" stroke="#8db3a6" stroke-width="0.22">NAC</text>
<text x="141.60" y="604.60" font-size="7.6" fill="#a58a9b" text-anchor="end" stroke="#a58a9b" stroke-width="0.22">NAC-naïve</text>
<text x="149.80" y="590.00" font-size="7.8" fill="#222" text-anchor="middle" stroke="#222" stroke-width="0.3">36</text>
<text x="149.80" y="604.60" font-size="7.8" fill="#222" text-anchor="middle" stroke="#222" stroke-width="0.3">52</text>
<text x="173.60" y="590.00" font-size="7.8" fill="#222" text-anchor="middle" stroke="#222" stroke-width="0.3">36</text>
<text x="173.60" y="604.60" font-size="7.8" fill="#222" text-anchor="middle" stroke="#222" stroke-width="0.3">47</text>
<text x="197.40" y="590.00" font-size="7.8" fill="#222" text-anchor="middle" stroke="#222" stroke-width="0.3">36</text>
<text x="197.40" y="604.60" font-size="7.8" fill="#222" text-anchor="middle" stroke="#222" stroke-width="0.3">43</text>
<text x="221.10" y="590.00" font-size="7.8" fill="#222" text-anchor="middle" stroke="#222" stroke-width="0.3">12</text>
<text x="221.10" y="604.60" font-size="7.8" fill="#222" text-anchor="middle" stroke="#222" stroke-width="0.3">25</text>
<text x="244.90" y="590.00" font-size="7.8" fill="#222" text-anchor="middle" stroke="#222" stroke-width="0.3">7</text>
<text x="244.90" y="604.60" font-size="7.8" fill="#222" text-anchor="middle" stroke="#222" stroke-width="0.3">17</text>
<path d="M150.00,440.40H199.60V442.90H249.70V442.90" fill="none" stroke="#52977f" stroke-width="1.8" stroke-linejoin="miter"/>
<line x1="213.50" y1="439.90" x2="213.50" y2="445.30" stroke="#52977f" stroke-width="1"/>
<line x1="215.00" y1="439.90" x2="215.00" y2="445.30" stroke="#52977f" stroke-width="1"/>
<line x1="216.50" y1="439.90" x2="216.50" y2="445.30" stroke="#52977f" stroke-width="1"/>
<line x1="218.00" y1="439.90" x2="218.00" y2="445.30" stroke="#52977f" stroke-width="1"/>
<line x1="219.50" y1="439.90" x2="219.50" y2="445.30" stroke="#52977f" stroke-width="1"/>
<line x1="221.00" y1="439.90" x2="221.00" y2="445.30" stroke="#52977f" stroke-width="1"/>
<line x1="222.50" y1="439.90" x2="222.50" y2="445.30" stroke="#52977f" stroke-width="1"/>
<line x1="225.50" y1="439.90" x2="225.50" y2="445.30" stroke="#52977f" stroke-width="1"/>
<line x1="243.40" y1="439.90" x2="243.40" y2="445.30" stroke="#52977f" stroke-width="1"/>
<path d="M150.00,440.40H153.50V441.40H159.80V442.90H162.10V445.20H175.20V447.30H178.40V449.40H204.80V451.50H216.60V453.10H248.60V453.10H248.60V458.60H249.20V458.60" fill="none" stroke="#8a557d" stroke-width="1.8" stroke-linejoin="miter"/>
<line x1="159.30" y1="438.40" x2="159.30" y2="443.80" stroke="#8a557d" stroke-width="1"/>
<line x1="185.80" y1="446.40" x2="185.80" y2="451.80" stroke="#8a557d" stroke-width="1"/>
<line x1="195.80" y1="446.40" x2="195.80" y2="451.80" stroke="#8a557d" stroke-width="1"/>
<line x1="218.00" y1="450.10" x2="218.00" y2="455.50" stroke="#8a557d" stroke-width="1"/>
<line x1="219.50" y1="450.10" x2="219.50" y2="455.50" stroke="#8a557d" stroke-width="1"/>
<line x1="221.00" y1="450.10" x2="221.00" y2="455.50" stroke="#8a557d" stroke-width="1"/>
<line x1="222.50" y1="450.10" x2="222.50" y2="455.50" stroke="#8a557d" stroke-width="1"/>
<line x1="224.00" y1="450.10" x2="224.00" y2="455.50" stroke="#8a557d" stroke-width="1"/>
<line x1="226.50" y1="450.10" x2="226.50" y2="455.50" stroke="#8a557d" stroke-width="1"/>
<line x1="237.80" y1="450.10" x2="237.80" y2="455.50" stroke="#8a557d" stroke-width="1"/>
<text x="269.10" y="423.10" font-size="13" fill="#111" font-weight="bold" stroke="#111" stroke-width="0.22">H</text>
<text x="306.10" y="428.80" font-size="8" fill="#222" stroke="#222" stroke-width="0.22">ctDNA-positive patients</text>
<line x1="305.50" y1="436.50" x2="305.50" y2="535.40" stroke="#383838" stroke-width="1.1"/>
<line x1="298.20" y1="444.80" x2="305.50" y2="444.80" stroke="#383838" stroke-width="1.1"/>
<text x="295.20" y="447.80" font-size="7.7" fill="#222" text-anchor="end" stroke="#222" stroke-width="0.22">1.00</text>
<line x1="298.20" y1="466.30" x2="305.50" y2="466.30" stroke="#383838" stroke-width="1.1"/>
<text x="295.20" y="469.30" font-size="7.7" fill="#222" text-anchor="end" stroke="#222" stroke-width="0.22">0.75</text>
<line x1="298.20" y1="487.80" x2="305.50" y2="487.80" stroke="#383838" stroke-width="1.1"/>
<text x="295.20" y="490.80" font-size="7.7" fill="#222" text-anchor="end" stroke="#222" stroke-width="0.22">0.50</text>
<line x1="298.20" y1="509.30" x2="305.50" y2="509.30" stroke="#383838" stroke-width="1.1"/>
<text x="295.20" y="512.30" font-size="7.7" fill="#222" text-anchor="end" stroke="#222" stroke-width="0.22">0.25</text>
<line x1="298.20" y1="530.80" x2="305.50" y2="530.80" stroke="#383838" stroke-width="1.1"/>
<text x="295.20" y="533.80" font-size="7.7" fill="#222" text-anchor="end" stroke="#222" stroke-width="0.22">0.00</text>
<line x1="305.50" y1="535.40" x2="364.70" y2="535.40" stroke="#383838" stroke-width="1.1"/>
<line x1="321.70" y1="535.40" x2="321.70" y2="541.60" stroke="#383838" stroke-width="1.1"/>
<line x1="348.90" y1="535.40" x2="348.90" y2="541.60" stroke="#383838" stroke-width="1.1"/>
<text x="337.70" y="441.30" font-size="7.2" fill="#222" text-anchor="middle" stroke="#222" stroke-width="0.1"><tspan font-style="italic">P</tspan> = 0.8</text>
<text transform="translate(274.50,487.30) rotate(-90)" font-size="8" fill="#222" text-anchor="middle" stroke="#222" stroke-width="0.22">Fraction of patients</text>
<rect x="309.90" y="444.80" width="24.00" height="50.17" fill="#a5a9a9"/>
<rect x="309.90" y="494.97" width="24.00" height="35.83" fill="#6f7474"/>
<text x="321.90" y="472.48" font-size="7.2" fill="#1c1c1c" text-anchor="middle" stroke="#1c1c1c" stroke-width="0.2">14</text>
<text x="321.90" y="515.48" font-size="7.2" fill="#1c1c1c" text-anchor="middle" stroke="#1c1c1c" stroke-width="0.2">10</text>
<rect x="337.10" y="444.80" width="23.70" height="44.95" fill="#a5a9a9"/>
<rect x="337.10" y="489.75" width="23.70" height="41.05" fill="#6f7474"/>
<text x="348.95" y="469.88" font-size="7.2" fill="#1c1c1c" text-anchor="middle" stroke="#1c1c1c" stroke-width="0.2">23</text>
<text x="348.95" y="512.88" font-size="7.2" fill="#1c1c1c" text-anchor="middle" stroke="#1c1c1c" stroke-width="0.2">21</text>
<text transform="translate(325.50,548.90) rotate(-45)" font-size="8.2" fill="#222" text-anchor="end" stroke="#222" stroke-width="0.22">NAC</text>
<text transform="translate(352.70,549.10) rotate(-45)" font-size="8.2" fill="#222" text-anchor="end" stroke="#222" stroke-width="0.22">NAC-naïve</text>
<text x="280.10" y="588.90" font-size="7.6" fill="#222" stroke="#222" stroke-width="0.22">1-year recurrence</text>
<rect x="280.10" y="594.50" width="11.40" height="10.20" fill="#a5a9a9"/>
<text x="295.50" y="602.40" font-size="7.7" fill="#222" stroke="#222" stroke-width="0.22">No</text>
<rect x="309.20" y="594.50" width="11.20" height="10.20" fill="#6f7474"/>
<text x="323.20" y="602.40" font-size="7.7" fill="#222" stroke="#222" stroke-width="0.22">Yes</text>
<line x1="409.10" y1="434.80" x2="409.10" y2="539.70" stroke="#383838" stroke-width="1.1"/>
<line x1="401.90" y1="440.40" x2="409.10" y2="440.40" stroke="#383838" stroke-width="1.1"/>
<text x="399.10" y="443.40" font-size="7.7" fill="#222" text-anchor="end" stroke="#222" stroke-width="0.22">1.00</text>
<line x1="401.90" y1="464.12" x2="409.10" y2="464.12" stroke="#383838" stroke-width="1.1"/>
<text x="399.10" y="467.12" font-size="7.7" fill="#222" text-anchor="end" stroke="#222" stroke-width="0.22">0.75</text>
<line x1="401.90" y1="487.85" x2="409.10" y2="487.85" stroke="#383838" stroke-width="1.1"/>
<text x="399.10" y="490.85" font-size="7.7" fill="#222" text-anchor="end" stroke="#222" stroke-width="0.22">0.50</text>
<line x1="401.90" y1="511.57" x2="409.10" y2="511.57" stroke="#383838" stroke-width="1.1"/>
<text x="399.10" y="514.57" font-size="7.7" fill="#222" text-anchor="end" stroke="#222" stroke-width="0.22">0.25</text>
<line x1="401.90" y1="535.30" x2="409.10" y2="535.30" stroke="#383838" stroke-width="1.1"/>
<text x="399.10" y="538.30" font-size="7.7" fill="#222" text-anchor="end" stroke="#222" stroke-width="0.22">0.00</text>
<line x1="409.10" y1="539.70" x2="513.50" y2="539.70" stroke="#383838" stroke-width="1.1"/>
<line x1="414.00" y1="539.70" x2="414.00" y2="546.00" stroke="#383838" stroke-width="1.1"/>
<text x="414.00" y="555.80" font-size="8.2" fill="#222" text-anchor="middle" stroke="#222" stroke-width="0.22">0</text>
<line x1="437.80" y1="539.70" x2="437.80" y2="546.00" stroke="#383838" stroke-width="1.1"/>
<text x="437.80" y="555.80" font-size="8.2" fill="#222" text-anchor="middle" stroke="#222" stroke-width="0.22">250</text>
<line x1="461.60" y1="539.70" x2="461.60" y2="546.00" stroke="#383838" stroke-width="1.1"/>
<text x="461.60" y="555.80" font-size="8.2" fill="#222" text-anchor="middle" stroke="#222" stroke-width="0.22">500</text>
<line x1="485.30" y1="539.70" x2="485.30" y2="546.00" stroke="#383838" stroke-width="1.1"/>
<text x="485.30" y="555.80" font-size="8.2" fill="#222" text-anchor="middle" stroke="#222" stroke-width="0.22">750</text>
<line x1="509.10" y1="539.70" x2="509.10" y2="546.00" stroke="#383838" stroke-width="1.1"/>
<text x="509.10" y="555.80" font-size="8.2" fill="#222" text-anchor="middle" stroke="#222" stroke-width="0.22">1,000</text>
<text x="460.20" y="566.30" font-size="8.1" fill="#222" text-anchor="middle" stroke="#222" stroke-width="0.22">Days after RC</text>
<text transform="translate(378.30,488.20) rotate(-90)" font-size="8" fill="#222" text-anchor="middle" stroke="#222" stroke-width="0.22">RFS</text>
<text x="420.00" y="520.00" font-size="7" fill="#222" stroke="#222" stroke-width="0.1">HR = 1 (0.5–2)</text>
<text x="420.00" y="529.60" font-size="7" fill="#222" stroke="#222" stroke-width="0.1"><tspan font-style="italic">P</tspan> = 0.89</text>
<text x="405.80" y="589.90" font-size="7.6" fill="#8db3a6" text-anchor="end" stroke="#8db3a6" stroke-width="0.22">NAC</text>
<text x="405.80" y="604.60" font-size="7.6" fill="#a58a9b" text-anchor="end" stroke="#a58a9b" stroke-width="0.22">NAC-naïve</text>
<text x="414.00" y="590.00" font-size="7.8" fill="#222" text-anchor="middle" stroke="#222" stroke-width="0.3">24</text>
<text x="414.00" y="604.60" font-size="7.8" fill="#222" text-anchor="middle" stroke="#222" stroke-width="0.3">44</text>
<text x="437.80" y="590.00" font-size="7.8" fill="#222" text-anchor="middle" stroke="#222" stroke-width="0.3">18</text>
<text x="437.80" y="604.60" font-size="7.8" fill="#222" text-anchor="middle" stroke="#222" stroke-width="0.3">26</text>
<text x="461.60" y="590.00" font-size="7.8" fill="#222" text-anchor="middle" stroke="#222" stroke-width="0.3">13</text>
<text x="461.60" y="604.60" font-size="7.8" fill="#222" text-anchor="middle" stroke="#222" stroke-width="0.3">23</text>
<text x="485.30" y="590.00" font-size="7.8" fill="#222" text-anchor="middle" stroke="#222" stroke-width="0.3">4</text>
<text x="485.30" y="604.60" font-size="7.8" fill="#222" text-anchor="middle" stroke="#222" stroke-width="0.3">14</text>
<text x="509.10" y="590.00" font-size="7.8" fill="#222" text-anchor="middle" stroke="#222" stroke-width="0.3">3</text>
<text x="509.10" y="604.60" font-size="7.8" fill="#222" text-anchor="middle" stroke="#222" stroke-width="0.3">8</text>
<path d="M414.30,440.50H416.90V442.30H419.20V444.10H422.90V445.50H424.70V449.70H426.60V460.30H435.80V463.70H443.20V472.70H445.00V475.00H448.70V478.20H449.60V480.00H472.30V484.60H476.20V487.00H487.00V488.50H513.60V488.50" fill="none" stroke="#52977f" stroke-width="1.8" stroke-linejoin="miter"/>
<line x1="429.00" y1="457.30" x2="429.00" y2="462.70" stroke="#52977f" stroke-width="1"/>
<line x1="444.50" y1="469.70" x2="444.50" y2="475.10" stroke="#52977f" stroke-width="1"/>
<line x1="446.00" y1="472.00" x2="446.00" y2="477.40" stroke="#52977f" stroke-width="1"/>
<line x1="480.80" y1="484.00" x2="480.80" y2="489.40" stroke="#52977f" stroke-width="1"/>
<line x1="483.80" y1="484.00" x2="483.80" y2="489.40" stroke="#52977f" stroke-width="1"/>
<line x1="485.40" y1="484.00" x2="485.40" y2="489.40" stroke="#52977f" stroke-width="1"/>
<line x1="495.40" y1="485.50" x2="495.40" y2="490.90" stroke="#52977f" stroke-width="1"/>
<line x1="510.00" y1="485.50" x2="510.00" y2="490.90" stroke="#52977f" stroke-width="1"/>
<line x1="513.20" y1="485.50" x2="513.20" y2="490.90" stroke="#52977f" stroke-width="1"/>
<path d="M414.30,440.50H416.90V442.30H419.20V444.10H422.90V445.50H423.40V450.00H424.00V456.00H424.60V462.00H425.20V468.00H425.80V473.00H426.20V477.00H435.30V478.20H437.60V480.10H439.50V483.80H450.00V485.40H473.00V486.50H486.20V494.20H513.60V494.20" fill="none" stroke="#8a557d" stroke-width="1.8" stroke-linejoin="miter"/>
<line x1="472.00" y1="482.40" x2="472.00" y2="487.80" stroke="#8a557d" stroke-width="1"/>
<line x1="476.00" y1="483.50" x2="476.00" y2="488.90" stroke="#8a557d" stroke-width="1"/>
<line x1="478.00" y1="483.50" x2="478.00" y2="488.90" stroke="#8a557d" stroke-width="1"/>
<line x1="480.00" y1="483.50" x2="480.00" y2="488.90" stroke="#8a557d" stroke-width="1"/>
<line x1="489.20" y1="491.20" x2="489.20" y2="496.60" stroke="#8a557d" stroke-width="1"/>
<line x1="492.30" y1="491.20" x2="492.30" y2="496.60" stroke="#8a557d" stroke-width="1"/>
<line x1="493.80" y1="491.20" x2="493.80" y2="496.60" stroke="#8a557d" stroke-width="1"/>
<line x1="513.20" y1="491.20" x2="513.20" y2="496.60" stroke="#8a557d" stroke-width="1"/>
</svg></body></html>
